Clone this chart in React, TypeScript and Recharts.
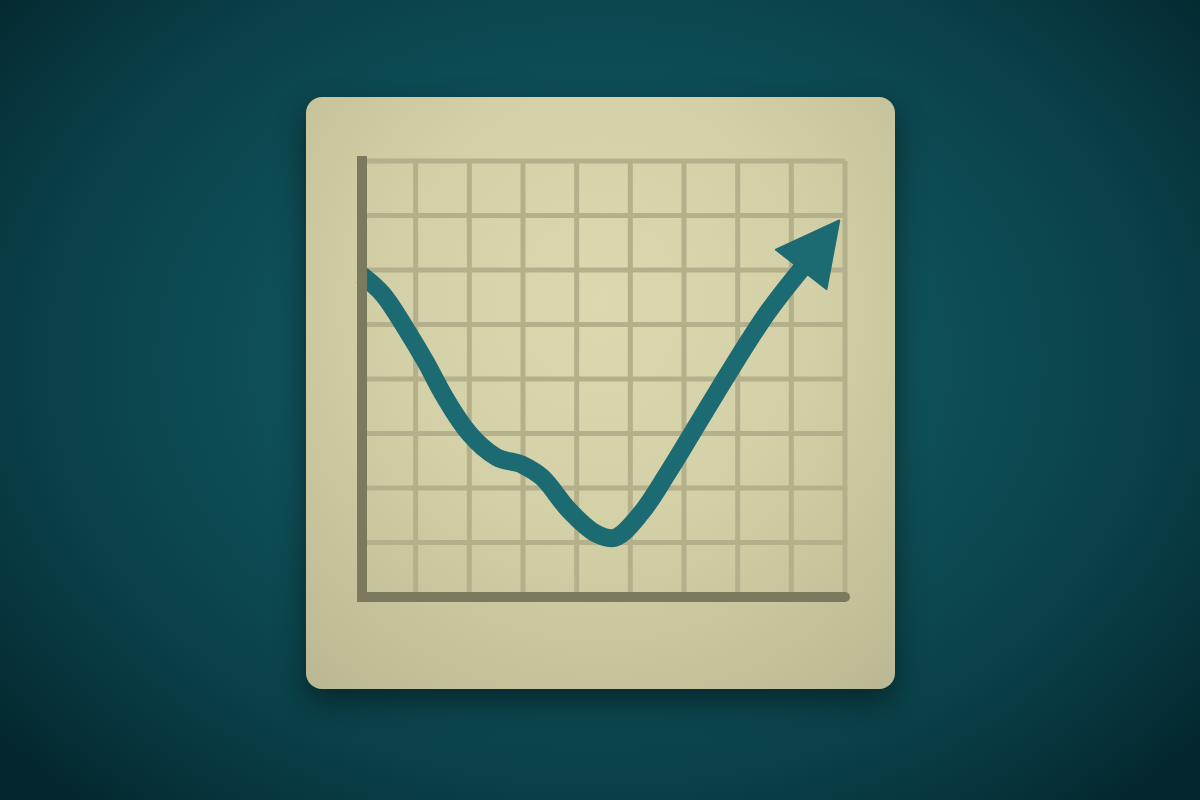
import { LineChart, Line, XAxis, YAxis, CartesianGrid } from 'recharts';

// ═══════════════════════════════════════════════════════════════
// DATA
// ═══════════════════════════════════════════════════════════════

const xValues = [0, 0.4, 0.8, 1.2, 1.5, 2.0, 2.5, 3.0, 3.35, 3.85, 4.35, 4.65, 5.2, 5.7, 6.3, 6.9, 7.55, 8.23];
const yValues = [5.9, 5.54, 4.95, 4.29, 3.74, 3.0, 2.57, 2.42, 2.2, 1.6, 1.17, 1.08, 1.54, 2.28, 3.25, 4.22, 5.21, 6.07];

const xTicks = [0, 1, 2, 3, 4, 5, 6, 7, 8, 9];
const yTicks = [0, 1, 2, 3, 4, 5, 6, 7, 8];

const data = xValues.map((x, i) => ({ x, y: yValues[i] }));

const TEAL = '#1c6a72';
const GRID = '#b4b08b';
const AXIS = '#7b7a5f';

const NoTick = () => <g />;

// ═══════════════════════════════════════════════════════════════
// ARROW HEAD (drawn on the last point, pointing along the last segment)
// ═══════════════════════════════════════════════════════════════

const ArrowDot = (props: any) => {
    const { index, cx, cy, points } = props;
    if (index !== data.length - 1) return <g key={`dot-${index}`} />;

    let ux = 0.62;
    let uy = -0.785;
    const prev = points?.[index - 1];
    if (prev) {
        const dx = cx - prev.x;
        const dy = cy - prev.y;
        const len = Math.hypot(dx, dy) || 1;
        ux = dx / len;
        uy = dy / len;
    }

    const headLen = 62;
    const halfWidth = 32;
    const bx = cx - ux * 4;
    const by = cy - uy * 4;
    const tip = [bx + ux * headLen, by + uy * headLen];
    const left = [bx - uy * halfWidth, by + ux * halfWidth];
    const right = [bx + uy * halfWidth, by - ux * halfWidth];

    return (
        <polygon
            key={`dot-${index}`}
            points={`${tip.join(',')} ${left.join(',')} ${right.join(',')}`}
            fill={TEAL}
            stroke={TEAL}
            strokeWidth={2}
            strokeLinejoin="round"
        />
    );
};

export default function App() {
    return (
        <div
            style={{
                position: 'absolute',
                left: 0,
                top: 0,
                width: 1200,
                height: 800,
                overflow: 'hidden',
                background:
                    'radial-gradient(ellipse 65% 75% at 50% 45%, #145c63 0%, #0f5058 40%, #0a4049 72%, #063139 90%, #04262e 100%)',
            }}
        >
            {/* paper card */}
            <div
                style={{
                    position: 'absolute',
                    left: 306,
                    top: 97,
                    width: 589,
                    height: 592,
                    borderRadius: 16,
                    background:
                        'radial-gradient(ellipse 80% 85% at 50% 35%, #dcd8b0 0%, #d3cfa6 45%, #c4c19a 80%, #b9b792 100%)',
                    boxShadow: '0 12px 30px rgba(0,0,0,0.45)',
                }}
            />

            <div style={{ position: 'absolute', left: 0, top: 0 }}>
                <LineChart
                    width={1200}
                    height={800}
                    data={data}
                    margin={{ top: 161, right: 355, bottom: 202, left: 361 }}
                >
                    <CartesianGrid stroke={GRID} strokeWidth={5} />

                    <XAxis
                        type="number"
                        dataKey="x"
                        domain={[0, 9]}
                        ticks={xTicks}
                        interval={0}
                        tick={NoTick}
                        tickLine={false}
                        height={1}
                        axisLine={{ stroke: AXIS, strokeWidth: 10, strokeLinecap: 'round' }}
                    />

                    <YAxis
                        type="number"
                        domain={[0, 8]}
                        ticks={yTicks}
                        interval={0}
                        tick={NoTick}
                        tickLine={false}
                        width={1}
                        axisLine={{ stroke: AXIS, strokeWidth: 10, strokeLinecap: 'square' }}
                    />

                    <Line
                        type="monotone"
                        dataKey="y"
                        stroke={TEAL}
                        strokeWidth={18}
                        strokeLinecap="butt"
                        dot={ArrowDot}
                        activeDot={false}
                        isAnimationActive={false}
                    />
                </LineChart>
            </div>
        </div>
    );
}
